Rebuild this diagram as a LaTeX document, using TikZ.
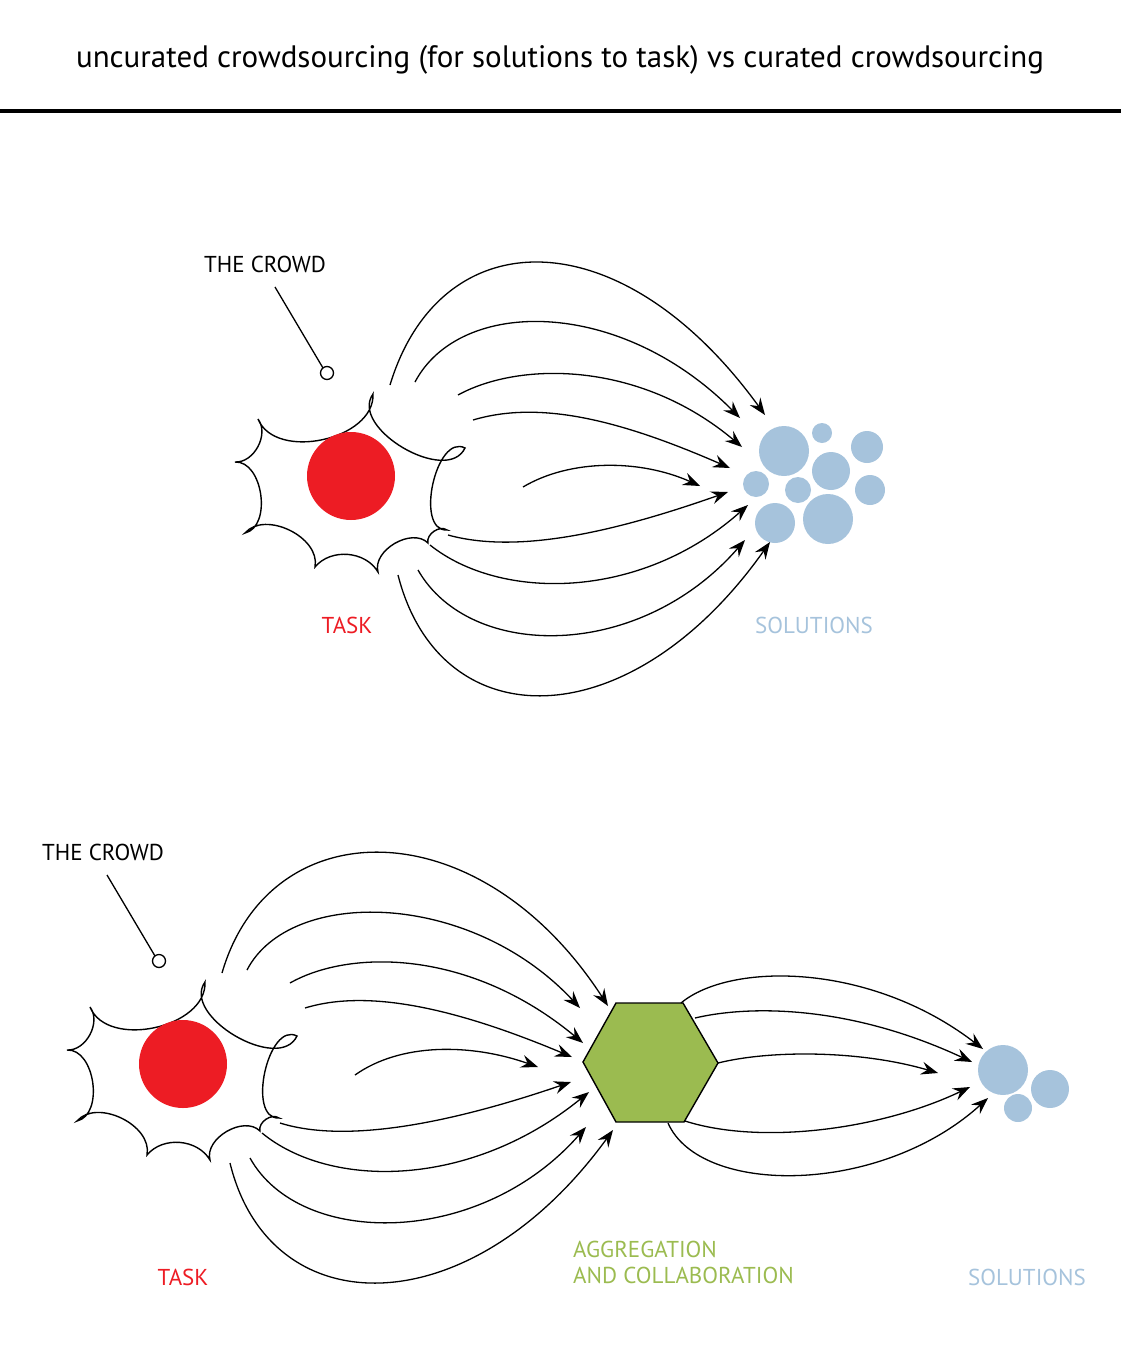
\documentclass[tikz,border=0pt]{standalone}
\usepackage{fontspec}
\setmainfont{PT Sans}
\usetikzlibrary{arrows.meta}
\definecolor{tred}{HTML}{ED1C24}
\definecolor{sblue}{HTML}{A6C3DC}
\definecolor{hgreen}{HTML}{9BBB50}
\tikzset{
  arr/.style={line width=1.3pt,-{Stealth[length=17pt,width=13pt,inset=6pt]}},
  ln/.style={line width=1.3pt},
  lbl/.style={font=\fontsize{23}{26}\selectfont,inner sep=0pt},
  bub/.style={fill=sblue,draw=none},
}
\newcommand{\mycloud}{%
  \draw[line width=1.4pt,fill=white] (258,419) to[bend right=80] (373,394) to[bend right=95] (465,448)
   to[bend right=105] (447,530) to[bend right=70] (428,543) to[bend right=75] (378,572)
   to[bend right=55] (315,567) to[bend right=75] (245,533) to[bend right=85] (235,462)
   to[bend right=65] cycle;
  \fill[tred] (351,476) circle (44);
  \draw[ln] (275,287) -- (323,368);
  \draw[ln,fill=white] (327,373) circle (6.5);
}
\begin{document}
\begin{tikzpicture}[x=1pt,y=-1pt]
\useasboundingbox (0,0) rectangle (1121,1365);
\node[font=\fontsize{31}{34}\selectfont] (title) at (560,60) {uncurated crowdsourcing (for solutions to task) vs curated crowdsourcing};
\draw[line width=3.5pt] (0,111) -- (1121,111);

% ---------- top
\mycloud
\node[lbl] (crowd1) at (265,264) {THE CROWD};
\node[lbl,text=tred] (task1) at (347,625) {TASK};
\node[lbl,text=sblue] (sol1) at (814,625) {SOLUTIONS};
\foreach \x/\y/\r [count=\i] in {784/451/25,822/433/10,867/447/16,831/471/19,756/484/13,798/490/13,870/490/15,775/523/20,828/519/25}
  \fill[bub] (\x,\y) circle (\r);
\coordinate (s1) at (390,385); \coordinate (e1) at (765,415);
\coordinate (s2) at (415,382); \coordinate (e2) at (740,418);
\coordinate (s3) at (458,395); \coordinate (e3) at (742,447);
\coordinate (s4) at (473,420); \coordinate (e4) at (730,468);
\coordinate (s5) at (523,487); \coordinate (e5) at (700,486);
\coordinate (s6) at (448,535); \coordinate (e6) at (728,492);
\coordinate (s7) at (430,545); \coordinate (e7) at (748,505);
\coordinate (s8) at (418,570); \coordinate (e8) at (745,540);
\coordinate (s9) at (398,575); \coordinate (e9) at (770,542);
\draw[arr] (s1) .. controls (440,220) and (620,215) .. (e1);
\draw[arr] (s2) .. controls (460,297) and (620,297) .. (e2);
\draw[arr] (s3) .. controls (520,361) and (640,361) .. (e3);
\draw[arr] (s4) .. controls (540,400) and (620,420) .. (e4);
\draw[arr] (s5) .. controls (570,459) and (640,459) .. (e5);
\draw[arr] (s6) .. controls (520,555) and (620,530) .. (e6);
\draw[arr] (s7) .. controls (500,601) and (640,601) .. (e7);
\draw[arr] (s8) .. controls (470,661) and (640,661) .. (e8);
\draw[arr] (s9) .. controls (440,740) and (630,740) .. (e9);

% ---------- bottom
\begin{scope}[shift={(-168,588)}]
\mycloud
\end{scope}
\node[lbl] (crowd2) at (103,852) {THE CROWD};
\node[lbl,text=tred] (task2) at (183,1277) {TASK};
\node[lbl,text=hgreen,align=left,anchor=west] (agg) at (573,1262) {AGGREGATION\\AND COLLABORATION};
\node[lbl,text=sblue] (sol2) at (1027,1277) {SOLUTIONS};
\draw[line width=1.4pt,fill=hgreen] (583,1062) coordinate (hl) -- (616,1003) coordinate (htl) -- (683,1003) coordinate (htr)
  -- (718,1063) coordinate (hr) -- (684,1122) coordinate (hbr) -- (616,1122) coordinate (hbl) -- cycle;
\fill[bub] (1003,1070) circle (25);
\fill[bub] (1050,1089) circle (19);
\fill[bub] (1018,1108) circle (14);
\coordinate (t1) at (222,973); \coordinate (f1) at (608,1006);
\coordinate (t2) at (247,970); \coordinate (f2) at (580,1008);
\coordinate (t3) at (290,983); \coordinate (f3) at (583,1043);
\coordinate (t4) at (305,1008); \coordinate (f4) at (572,1057);
\coordinate (t5) at (355,1075); \coordinate (f5) at (538,1067);
\coordinate (t6) at (280,1123); \coordinate (f6) at (571,1082);
\coordinate (t7) at (262,1133); \coordinate (f7) at (589,1092);
\coordinate (t8) at (250,1158); \coordinate (f8) at (586,1127);
\coordinate (t9) at (230,1163); \coordinate (f9) at (613,1130);
\draw[arr] (t1) .. controls (270,808) and (480,808) .. (f1);
\draw[arr] (t2) .. controls (290,887) and (470,890) .. (f2);
\draw[arr] (t3) .. controls (350,949) and (470,949) .. (f3);
\draw[arr] (t4) .. controls (370,988) and (460,1010) .. (f4);
\draw[arr] (t5) .. controls (400,1043) and (470,1043) .. (f5);
\draw[arr] (t6) .. controls (350,1145) and (460,1120) .. (f6);
\draw[arr] (t7) .. controls (330,1189) and (470,1189) .. (f7);
\draw[arr] (t8) .. controls (300,1248) and (480,1248) .. (f8);
\draw[arr] (t9) .. controls (270,1327) and (470,1327) .. (f9);
\coordinate (u1) at (681,1003); \coordinate (g1) at (983,1049);
\coordinate (u2) at (695,1018); \coordinate (g2) at (972,1062);
\coordinate (u4) at (685,1121); \coordinate (g4) at (970,1087);
\coordinate (u5) at (668,1123); \coordinate (g5) at (988,1098);
\coordinate (g3) at (938,1073);
\draw[arr] (u1) .. controls (730,962) and (870,962) .. (g1);
\draw[arr] (u2) .. controls (750,1005) and (850,1005) .. (g2);
\draw[arr] (hr) .. controls (770,1050) and (860,1050) .. (g3);
\draw[arr] (u4) .. controls (760,1145) and (880,1130) .. (g4);
\draw[arr] (u5) .. controls (700,1196) and (880,1196) .. (g5);
\end{tikzpicture}
\end{document}
